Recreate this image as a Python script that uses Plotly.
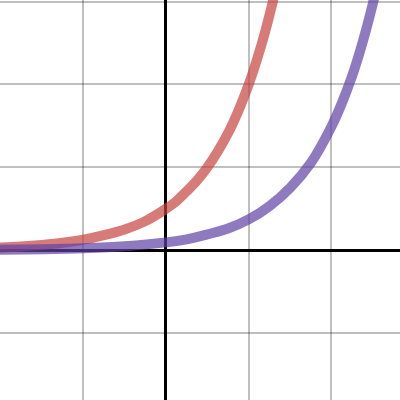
import plotly.graph_objects as go

# points (grid step = 1)
red_x = [-2.1, -1.75, -1.5, -1.25, -1.0, -0.75, -0.5, -0.25, 0.0, 0.125, 0.25,
         0.375, 0.5, 0.625, 0.75, 0.875, 1.0, 1.1, 1.2, 1.3]
red_y = [0.027, 0.044, 0.063, 0.088, 0.125, 0.18, 0.25, 0.35, 0.5, 0.59, 0.71,
         0.84, 1.0, 1.19, 1.41, 1.68, 2.0, 2.3, 2.64, 3.03]

purple_x = [-2.1, -1.5, -1.0, -0.5, 0.0, 0.25, 0.5, 0.75, 1.0, 1.25, 1.5, 1.75,
            2.0, 2.125, 2.25, 2.375, 2.5, 2.6]
purple_y = [0.005, 0.011, 0.023, 0.047, 0.093, 0.13, 0.19, 0.26, 0.37, 0.53, 0.75, 1.05,
            1.49, 1.77, 2.1, 2.5, 2.97, 3.4]

fig = go.Figure()

fig.add_trace(go.Scatter(
    x=red_x, y=red_y, mode='lines', line_shape='spline',
    line=dict(color='#c74440', width=10), opacity=0.7
))
fig.add_trace(go.Scatter(
    x=purple_x, y=purple_y, mode='lines', line_shape='spline',
    line=dict(color='#6042a6', width=10), opacity=0.7
))

axis_style = dict(
    showticklabels=False, ticks='',
    showgrid=True, gridcolor='rgba(0,0,0,0.25)', gridwidth=2, dtick=1,
    zeroline=True, zerolinecolor='black', zerolinewidth=3,
    showline=False, fixedrange=True
)

fig.update_layout(
    width=400, height=400,
    margin=dict(l=0, r=0, t=0, b=0),
    plot_bgcolor='white', paper_bgcolor='white',
    showlegend=False,
    xaxis=dict(range=[-2.007, 2.83], tick0=0, **axis_style),
    yaxis=dict(range=[-1.81, 3.02], tick0=0, **axis_style),
)

# drop the page's default body margin so the plot sits at the window corner
fig.write_html("out.html", config={'displayModeBar': False},
               post_script="document.body.style.margin='0';")
